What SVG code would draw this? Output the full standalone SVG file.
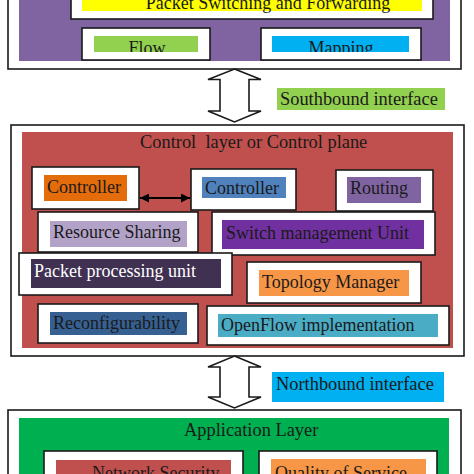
<svg xmlns="http://www.w3.org/2000/svg" width="474" height="474" viewBox="0 0 474 474">
<defs>
<style>
.box{fill:#ffffff;stroke:#1a1a1a;stroke-width:1.6}
.t{font-family:"Liberation Serif","Times New Roman",serif;font-size:18px;fill:#1a1a1a;white-space:pre}
.c{text-anchor:middle}
.arr{fill:#ffffff;stroke:#1a1a1a;stroke-width:1.6;stroke-linejoin:miter}
</style>
<clipPath id="clipFlow"><rect x="94" y="36" width="104" height="16"/></clipPath>
<clipPath id="clipMap"><rect x="272" y="36" width="137" height="16"/></clipPath>
<marker id="ah" viewBox="0 0 10 10" refX="10" refY="5" markerWidth="6" markerHeight="5" orient="auto-start-reverse" markerUnits="strokeWidth">
<path d="M0,0 L10,5 L0,10 Z" fill="#000000"/>
</marker>
</defs>
<rect width="474" height="474" fill="#ffffff"/>

<g id="data-layer">
<rect class="box" x="8" y="-20" width="453" height="89"/>
<rect x="19" y="-20" width="431" height="81" fill="#8064a2"/>
<g id="packet-switching">
<rect class="box" x="71" y="-20" width="362" height="39"/>
<rect x="82" y="-20" width="340" height="31" fill="#ffff00"/>
<text class="t c" x="268" y="8.5">Packet Switching and Forwarding</text>
</g>
<g id="flow">
<rect class="box" x="82" y="28" width="128" height="32"/>
<rect x="94" y="36" width="104" height="16" fill="#92d050"/>
<text class="t c" x="147" y="54" clip-path="url(#clipFlow)">Flow</text>
</g>
<g id="mapping">
<rect class="box" x="261" y="28" width="160" height="32"/>
<rect x="272" y="36" width="137" height="16" fill="#00b0f0"/>
<text class="t c" x="341" y="54" clip-path="url(#clipMap)">Mapping</text>
</g>
</g>

<g id="southbound-label">
<rect x="277" y="88" width="168" height="22" fill="#92d050"/>
<text class="t" x="280" y="104.5" style="font-size:18.4px">Southbound interface</text>
</g>

<g id="control-layer">
<rect class="box" x="11" y="125" width="453" height="231"/>
<rect x="22" y="132" width="431" height="216" fill="#c0504d"/>
<text class="t" x="140" y="148" style="font-size:18.4px">Control  layer or Control plane</text>
<g id="controller1">
<rect class="box" x="32" y="167" width="107" height="42"/>
<rect x="44" y="175" width="83" height="26" fill="#e46c0a"/>
<text class="t" x="47" y="192.5">Controller</text>
</g>
<g id="controller2">
<rect class="box" x="191" y="169" width="105" height="41"/>
<rect x="202" y="177" width="84" height="21" fill="#4f81bd"/>
<text class="t" x="205" y="193.5">Controller</text>
</g>
<g id="routing">
<rect class="box" x="336" y="170" width="97" height="41"/>
<rect x="347" y="177" width="74" height="26" fill="#8064a2"/>
<text class="t" x="350" y="194">Routing</text>
</g>
<g id="resource-sharing">
<rect class="box" x="38" y="212" width="160" height="40"/>
<rect x="50" y="221" width="137" height="26" fill="#b3a2c7"/>
<text class="t" x="53" y="238">Resource Sharing</text>
</g>
<g id="switch-management">
<rect class="box" x="212" y="212" width="223" height="43"/>
<rect x="222" y="220" width="202" height="29" fill="#7030a0"/>
<text class="t" x="226" y="238.5">Switch management Unit</text>
</g>
<g id="packet-processing">
<rect class="box" x="19" y="253" width="213" height="42"/>
<rect x="31" y="259" width="190" height="29" fill="#403152"/>
<text class="t" x="34" y="277" style="fill:#ffffff">Packet processing unit</text>
</g>
<g id="topology-manager">
<rect class="box" x="247" y="262" width="174" height="41"/>
<rect x="259" y="270" width="150" height="26" fill="#f79646"/>
<text class="t" x="262" y="288">Topology Manager</text>
</g>
<g id="reconfigurability">
<rect class="box" x="38" y="304" width="160" height="39"/>
<rect x="50" y="312" width="137" height="23" fill="#366092"/>
<text class="t" x="53" y="328.5">Reconfigurability</text>
</g>
<g id="openflow">
<rect class="box" x="207" y="306" width="242" height="39"/>
<rect x="218" y="314" width="220" height="23" fill="#4bacc6"/>
<text class="t" x="221" y="331">OpenFlow implementation</text>
</g>
</g>

<g id="northbound-label">
<rect x="272" y="372" width="172" height="30" fill="#00b0f0"/>
<text class="t" x="276" y="390" style="font-size:18.4px">Northbound interface</text>
</g>

<g id="application-layer">
<rect class="box" x="8" y="410" width="453" height="80"/>
<rect x="19" y="418" width="430" height="70" fill="#00b050"/>
<text class="t" x="184" y="436" style="font-size:18.4px">Application Layer</text>
<g id="network-security">
<rect class="box" x="44" y="451" width="199" height="40"/>
<rect x="56" y="460" width="175" height="30" fill="#c0504d"/>
<text class="t" x="92" y="479">Network Security</text>
</g>
<g id="qos">
<rect class="box" x="259" y="451" width="178" height="40"/>
<rect x="271" y="459" width="155" height="31" fill="#f79646"/>
<text class="t" x="275" y="479">Quality of Service</text>
</g>
</g>

<g id="connectors">
<path class="arr" d="M234.5,69 L261,79.5 L249,79.5 L249,111 L261,111 L234.5,122 L208,111 L220,111 L220,79.5 L208,79.5 Z"/>
<path class="arr" d="M234.5,356 L261,367 L249,367 L249,397 L261,397 L234.5,408 L208,397 L220,397 L220,367 L208,367 Z"/>
<line x1="140" y1="198" x2="190" y2="198" stroke="#000000" stroke-width="1.8" marker-start="url(#ah)" marker-end="url(#ah)"/>
</g>
</svg>
